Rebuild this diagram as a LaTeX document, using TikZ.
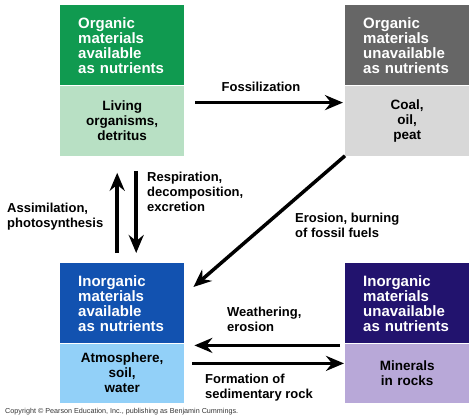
\documentclass[tikz,border=0pt]{standalone}
\usepackage{fontspec}
\setmainfont{Liberation Sans}
\usetikzlibrary{arrows.meta}
\definecolor{orgdark}{HTML}{109A50}
\definecolor{orglight}{HTML}{B8E0C4}
\definecolor{fossdark}{HTML}{666666}
\definecolor{fosslight}{HTML}{D8D8D8}
\definecolor{inorgdark}{HTML}{1252B0}
\definecolor{inorglight}{HTML}{92D0F8}
\definecolor{rockdark}{HTML}{22136E}
\definecolor{rocklight}{HTML}{B8A8D8}
\tikzset{
  head/.style={anchor=north west, minimum width=124pt, minimum height=80pt, text width=88pt, inner xsep=18pt, inner ysep=0pt, align=left, text=white, font=\fontsize{15}{15}\selectfont\bfseries},
  sub/.style={anchor=north west, minimum width=124pt, text width=120pt, inner xsep=2pt, inner ysep=0pt, align=center, font=\fontsize{13.5}{15}\selectfont\bfseries},
  lbl/.style={inner sep=0pt, align=left, font=\fontsize{13}{15}\selectfont\bfseries},
  flow/.style={line width=3.5pt, -{Stealth[length=18pt,width=15pt,inset=6pt]}}
}
\begin{document}
\begin{tikzpicture}[x=1pt, y=-1pt]
\useasboundingbox (0,0) rectangle (474,420);
\node[head, fill=orgdark] (orgavail) at (60,5) {Organic\\materials\\available\\as nutrients};
\node[sub, fill=orglight, minimum height=70pt] (living) at (orgavail.south west) {Living\\organisms,\\detritus};
\node[head, fill=fossdark] (orgunavail) at (345,5) {Organic\\materials\\unavailable\\as nutrients};
\node[sub, fill=fosslight, minimum height=70pt] (coal) at (orgunavail.south west) {Coal,\\oil,\\peat};
\node[head, fill=inorgdark] (inorgavail) at (60,263) {Inorganic\\materials\\available\\as nutrients};
\node[sub, fill=inorglight, minimum height=59pt] (atmos) at (inorgavail.south west) {Atmosphere,\\soil,\\water};
\node[head, fill=rockdark] (inorgunavail) at (345,263) {Inorganic\\materials\\unavailable\\as nutrients};
\node[sub, fill=rocklight, minimum height=59pt] (minerals) at (inorgunavail.south west) {Minerals\\in rocks};
% processes
\node[lbl] (fossil) at (261,87) {Fossilization};
\node[lbl, anchor=west] (resp) at (147,192) {Respiration,\\decomposition,\\excretion};
\node[lbl, anchor=west] (assim) at (7,217) {Assimilation,\\photosynthesis};
\node[lbl, anchor=west] (erosion) at (295,225) {Erosion, burning\\of fossil fuels};
\node[lbl, anchor=west] (weather) at (227,319) {Weathering,\\erosion};
\node[lbl, anchor=west] (sediment) at (205,388) {Formation of\\sedimentary rock};
\draw[flow] ([xshift=11pt,yshift=18pt]living.east) -- ([xshift=-2pt,yshift=18pt]coal.west);
\draw[flow] ([xshift=-5pt,yshift=10pt]inorgavail.north) -- ([xshift=-5pt,yshift=-17pt]living.south);
\draw[flow] ([xshift=14pt,yshift=-15pt]living.south) -- ([xshift=14pt,yshift=10pt]inorgavail.north);
\draw[flow] (coal.south west) -- ([xshift=9pt,yshift=-24pt]inorgavail.north east);
\draw[flow] ([xshift=-5pt,yshift=-2pt]inorgunavail.south west) -- ([xshift=10pt,yshift=-2pt]inorgavail.south east);
\draw[flow] ([xshift=8pt,yshift=-20pt]inorgavail.south east) -- ([xshift=-1pt,yshift=-20pt]inorgunavail.south west);
\node[inner sep=0pt, anchor=west, font=\fontsize{7.2}{8}\selectfont, text=black!80] (copyright) at (5,412) {Copyright \textcopyright{} Pearson Education, Inc., publishing as Benjamin Cummings.};
\end{tikzpicture}
\end{document}
